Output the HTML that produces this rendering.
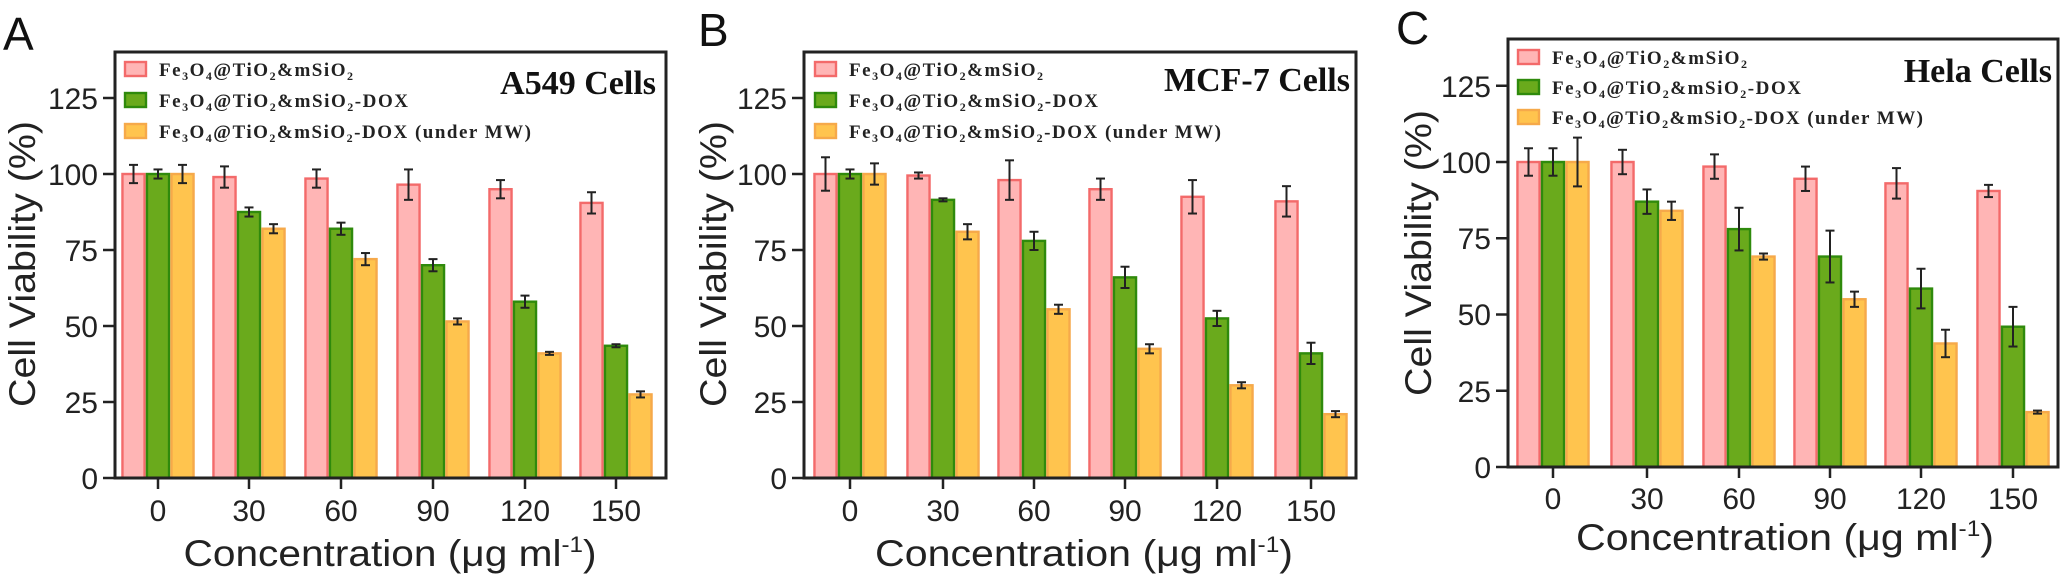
<!DOCTYPE html>
<html><head><meta charset="utf-8"><style>
html,body{margin:0;padding:0;background:#fff;}
svg{display:block;}
.tk{font-family:"Liberation Sans",Arial,sans-serif;font-size:30px;fill:#222;}
.ttl{font-family:"Liberation Sans",Arial,sans-serif;font-size:37px;fill:#222;}
.lt{font-family:"Liberation Serif",serif;font-weight:bold;font-size:19px;fill:#222;}
.ct{font-family:"Liberation Serif",serif;font-weight:bold;font-size:34px;fill:#111;}
.pl{font-family:"Liberation Sans",Arial,sans-serif;font-size:46px;fill:#111;}
</style></head><body>
<svg id="s" width="2066" height="575" viewBox="0 0 2066 575" xmlns="http://www.w3.org/2000/svg">
<g id="bars"></g>
<text class="pl" x="3" y="50">A</text>
<text class="pl" x="698" y="46">B</text>
<text class="pl" x="1396" y="44">C</text>

<g class="tk" text-anchor="end">
<text x="98" y="489">0</text><text x="98" y="413">25</text><text x="98" y="337">50</text><text x="98" y="261">75</text><text x="98" y="185">100</text><text x="98" y="109">125</text>
</g>
<g class="tk" text-anchor="middle">
<text x="158" y="521">0</text><text x="249" y="521">30</text><text x="341" y="521">60</text><text x="433" y="521">90</text><text x="525" y="521">120</text><text x="616" y="521">150</text>
</g>
<text class="ttl" x="390" y="566" text-anchor="middle" textLength="413" lengthAdjust="spacingAndGlyphs">Concentration (μg ml<tspan font-size="22" dy="-14">-1</tspan><tspan dy="14">)</tspan></text>
<text class="ttl" transform="translate(35,264) rotate(-90)" text-anchor="middle" textLength="286" lengthAdjust="spacingAndGlyphs">Cell Viability (%)</text>
<text class="ct" x="656" y="94" text-anchor="end">A549 Cells</text>

<g class="tk" text-anchor="end">
<text x="787" y="489">0</text><text x="787" y="413">25</text><text x="787" y="337">50</text><text x="787" y="261">75</text><text x="787" y="185">100</text><text x="787" y="109">125</text>
</g>
<g class="tk" text-anchor="middle">
<text x="850" y="521">0</text><text x="943" y="521">30</text><text x="1034" y="521">60</text><text x="1125" y="521">90</text><text x="1217" y="521">120</text><text x="1311" y="521">150</text>
</g>
<text class="ttl" x="1084" y="566" text-anchor="middle" textLength="418" lengthAdjust="spacingAndGlyphs">Concentration (μg ml<tspan font-size="22" dy="-14">-1</tspan><tspan dy="14">)</tspan></text>
<text class="ttl" transform="translate(726,264) rotate(-90)" text-anchor="middle" textLength="286" lengthAdjust="spacingAndGlyphs">Cell Viability (%)</text>
<text class="ct" x="1350" y="91" text-anchor="end">MCF-7 Cells</text>

<g class="tk" text-anchor="end">
<text x="1491" y="478">0</text><text x="1491" y="402">25</text><text x="1491" y="325">50</text><text x="1491" y="249">75</text><text x="1491" y="173">100</text><text x="1491" y="97">125</text>
</g>
<g class="tk" text-anchor="middle">
<text x="1553" y="509">0</text><text x="1647" y="509">30</text><text x="1739" y="509">60</text><text x="1830" y="509">90</text><text x="1921" y="509">120</text><text x="2013" y="509">150</text>
</g>
<text class="ttl" x="1785" y="550" text-anchor="middle" textLength="418" lengthAdjust="spacingAndGlyphs">Concentration (μg ml<tspan font-size="22" dy="-14">-1</tspan><tspan dy="14">)</tspan></text>
<text class="ttl" transform="translate(1431,253) rotate(-90)" text-anchor="middle" textLength="286" lengthAdjust="spacingAndGlyphs">Cell Viability (%)</text>
<text class="ct" x="2052" y="82" text-anchor="end">Hela Cells</text>

<g class="lt">
<text x="159" y="76" textLength="194">Fe<tspan font-size="12" dy="4">3</tspan><tspan dy="-4">O</tspan><tspan font-size="12" dy="4">4</tspan><tspan dy="-4">@TiO</tspan><tspan font-size="12" dy="4">2</tspan><tspan dy="-4">&amp;mSiO</tspan><tspan font-size="12" dy="4">2</tspan></text>
<text x="159" y="107" textLength="249">Fe<tspan font-size="12" dy="4">3</tspan><tspan dy="-4">O</tspan><tspan font-size="12" dy="4">4</tspan><tspan dy="-4">@TiO</tspan><tspan font-size="12" dy="4">2</tspan><tspan dy="-4">&amp;mSiO</tspan><tspan font-size="12" dy="4">2</tspan><tspan dy="-4">-DOX</tspan></text>
<text x="159" y="138" textLength="372">Fe<tspan font-size="12" dy="4">3</tspan><tspan dy="-4">O</tspan><tspan font-size="12" dy="4">4</tspan><tspan dy="-4">@TiO</tspan><tspan font-size="12" dy="4">2</tspan><tspan dy="-4">&amp;mSiO</tspan><tspan font-size="12" dy="4">2</tspan><tspan dy="-4">-DOX (under MW)</tspan></text>
</g>
<g class="lt">
<text x="849" y="76" textLength="194">Fe<tspan font-size="12" dy="4">3</tspan><tspan dy="-4">O</tspan><tspan font-size="12" dy="4">4</tspan><tspan dy="-4">@TiO</tspan><tspan font-size="12" dy="4">2</tspan><tspan dy="-4">&amp;mSiO</tspan><tspan font-size="12" dy="4">2</tspan></text>
<text x="849" y="107" textLength="249">Fe<tspan font-size="12" dy="4">3</tspan><tspan dy="-4">O</tspan><tspan font-size="12" dy="4">4</tspan><tspan dy="-4">@TiO</tspan><tspan font-size="12" dy="4">2</tspan><tspan dy="-4">&amp;mSiO</tspan><tspan font-size="12" dy="4">2</tspan><tspan dy="-4">-DOX</tspan></text>
<text x="849" y="138" textLength="372">Fe<tspan font-size="12" dy="4">3</tspan><tspan dy="-4">O</tspan><tspan font-size="12" dy="4">4</tspan><tspan dy="-4">@TiO</tspan><tspan font-size="12" dy="4">2</tspan><tspan dy="-4">&amp;mSiO</tspan><tspan font-size="12" dy="4">2</tspan><tspan dy="-4">-DOX (under MW)</tspan></text>
</g>
<g class="lt">
<text x="1552" y="64" textLength="195">Fe<tspan font-size="12" dy="4">3</tspan><tspan dy="-4">O</tspan><tspan font-size="12" dy="4">4</tspan><tspan dy="-4">@TiO</tspan><tspan font-size="12" dy="4">2</tspan><tspan dy="-4">&amp;mSiO</tspan><tspan font-size="12" dy="4">2</tspan></text>
<text x="1552" y="94" textLength="249">Fe<tspan font-size="12" dy="4">3</tspan><tspan dy="-4">O</tspan><tspan font-size="12" dy="4">4</tspan><tspan dy="-4">@TiO</tspan><tspan font-size="12" dy="4">2</tspan><tspan dy="-4">&amp;mSiO</tspan><tspan font-size="12" dy="4">2</tspan><tspan dy="-4">-DOX</tspan></text>
<text x="1552" y="124" textLength="371">Fe<tspan font-size="12" dy="4">3</tspan><tspan dy="-4">O</tspan><tspan font-size="12" dy="4">4</tspan><tspan dy="-4">@TiO</tspan><tspan font-size="12" dy="4">2</tspan><tspan dy="-4">&amp;mSiO</tspan><tspan font-size="12" dy="4">2</tspan><tspan dy="-4">-DOX (under MW)</tspan></text>
</g>
</svg>
<script>
(function(){
var NS="http://www.w3.org/2000/svg";
var g=document.getElementById("bars");
function el(t,a){var e=document.createElementNS(NS,t);for(var k in a)e.setAttribute(k,a[k]);g.appendChild(e);return e;}
var fills=["#ffb5b5","#6aaa1c","#ffc44e"],strokes=["#f36a6a","#2f8a0c","#f6a94a"];
var panels=[
 {L:115,R:666,T:52,Z:478,k:3.04,c:[158,249,341,433,525,616],lx:124,ly:[69,100,131],
  v:[[100,3,100,1.5,100,3],[99,3.5,87.5,1.5,82,1.5],[98.5,3,82,2,72,2],[96.5,5,70,2,51.5,1],[95,3,58,2,41,0.5],[90.5,3.5,43.5,0.5,27.5,1]]},
 {L:804,R:1356,T:52,Z:478,k:3.04,c:[850,943,1034,1125,1217,1311],lx:814,ly:[69,100,131],
  v:[[100,5.5,100,1.5,100,3.5],[99.5,1,91.5,0.5,81,2.5],[98,6.5,78,3,55.5,1.5],[95,3.5,66,3.5,42.5,1.5],[92.5,5.5,52.5,2.5,30.5,1],[91,5,41,3.5,21,1]]},
 {L:1508,R:2058,T:39,Z:467,k:3.05,c:[1553,1647,1739,1830,1921,2013],lx:1517,ly:[57,87,117],
  v:[[100,4.5,100,4.5,100,8],[100,4,87,4,84,3],[98.5,4,78,7,69,1],[94.5,4,69,8.5,55,2.5],[93,5,58.5,6.5,40.5,4.5],[90.5,2,46,6.5,18,0.5]]}
];
var bw=24.5;
panels.forEach(function(p){
 p.c.forEach(function(cx,i){
  for(var s=0;s<3;s++){
   var val=p.v[i][2*s],err=p.v[i][2*s+1];
   var x=cx-1.5*bw+s*bw, y=p.Z-val*p.k;
   el("rect",{x:x+1.2,y:y,width:bw-2.4,height:p.Z-y,fill:fills[s],stroke:strokes[s],"stroke-width":2.4});
   var xm=x+bw/2, y1=p.Z-(val+err)*p.k, y2=p.Z-(val-err)*p.k;
   el("line",{x1:xm,y1:y1,x2:xm,y2:y2,stroke:"#222","stroke-width":2});
   el("line",{x1:xm-4.5,y1:y1,x2:xm+4.5,y2:y1,stroke:"#222","stroke-width":2});
   el("line",{x1:xm-4.5,y1:y2,x2:xm+4.5,y2:y2,stroke:"#222","stroke-width":2});
  }
  el("line",{x1:cx,y1:p.Z,x2:cx,y2:p.Z+11,stroke:"#222","stroke-width":2.5});
 });
 for(var t=0;t<=125;t+=25){var y=p.Z-t*p.k;el("line",{x1:p.L-12,y1:y,x2:p.L,y2:y,stroke:"#222","stroke-width":2.5});}
 el("rect",{x:p.L,y:p.T,width:p.R-p.L,height:p.Z-p.T,fill:"none",stroke:"#222","stroke-width":3});
 for(var s=0;s<3;s++){el("rect",{x:p.lx+1,y:p.ly[s]-7,width:21,height:14,fill:fills[s],stroke:strokes[s],"stroke-width":2.4});}
});
})();
</script>
</body></html>
